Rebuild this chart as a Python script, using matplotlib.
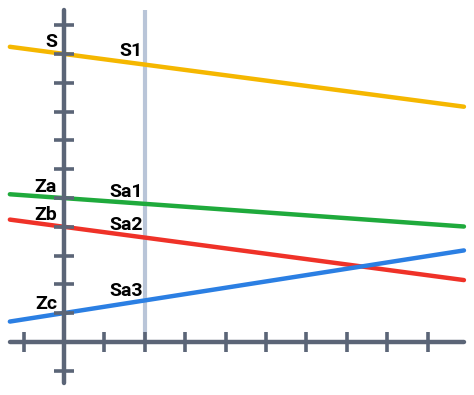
import matplotlib.pyplot as plt

# line end points (x from left end to right end)
x_ends = [-1.34, 9.9]
orange_y = [10.25, 8.17]
green_y = [5.13, 4.01]
red_y = [4.25, 2.15]
blue_y = [0.71, 3.18]

labels = ['S', 'S1', 'Za', 'Sa1', 'Zb', 'Sa2', 'Zc', 'Sa3']
label_x = [-0.30, 1.66, -0.45, 1.53, -0.45, 1.53, -0.45, 1.53]
label_y = [10.42, 10.1, 5.38, 5.21, 4.41, 4.06, 1.32, 1.77]

x_ticks = list(range(-1, 10))
y_ticks = list(range(-1, 12))

axis_col = '#5b6577'

fig = plt.figure(figsize=(4.74, 3.95), dpi=100)
ax = fig.add_axes([0, 0, 1, 1])
ax.set_xlim(-1.584, 10.149)
ax.set_ylim(-1.84, 11.875)

# vertical guide at x=2
ax.plot([2, 2], [0, 11.53], color='#b9c5d8', lw=3, zorder=1.8, solid_capstyle='butt')

ax.plot(x_ends, orange_y, color='#f5b700', lw=3.2, solid_capstyle='round', zorder=2)
ax.plot(x_ends, green_y, color='#1faa3c', lw=3.2, solid_capstyle='round', zorder=2)
ax.plot(x_ends, red_y, color='#ef3228', lw=3.2, solid_capstyle='round', zorder=2)
ax.plot(x_ends, blue_y, color='#2b7fe3', lw=3.2, solid_capstyle='round', zorder=2)

for t, lx, ly in zip(labels, label_x, label_y):
    ax.text(lx, ly, t, ha='center', va='center', fontsize=14,
            fontweight='bold', family='Roboto', color='black', zorder=4)

# axes through the origin
ax.spines['top'].set_visible(False)
ax.spines['right'].set_visible(False)
ax.spines['left'].set_position(('data', 0))
ax.spines['bottom'].set_position(('data', 0))
ax.spines['left'].set_bounds(-1.42, 11.53)
ax.spines['bottom'].set_bounds(-1.34, 9.9)
for s in ['left', 'bottom']:
    ax.spines[s].set_color(axis_col)
    ax.spines[s].set_linewidth(3.2)
    ax.spines[s].set_capstyle('round')
ax.set_axisbelow(False)
ax.set_xticks(x_ticks)
ax.set_yticks(y_ticks)
ax.tick_params(direction='inout', length=14, width=2.6, color=axis_col,
               labelbottom=False, labelleft=False)
ax.patch.set_alpha(0)

fig.savefig('out.png', dpi=100, facecolor='white')
